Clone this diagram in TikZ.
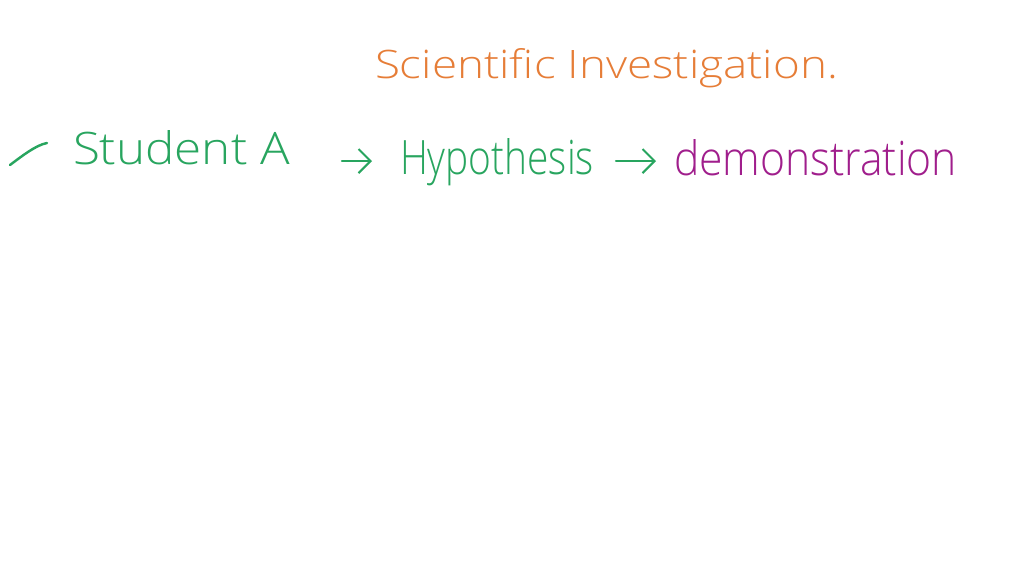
\documentclass[tikz,border=0pt]{standalone}
\usepackage{fontspec}
\setmainfont{Open Sans}[UprightFont=* Light]
\usetikzlibrary{arrows.meta}
\definecolor{penorange}{RGB}{230,125,55}
\definecolor{pengreen}{RGB}{40,165,95}
\definecolor{penpurple}{RGB}{160,30,140}
\begin{document}
\begin{tikzpicture}[
  handtext/.style={inner sep=0pt, outer sep=0pt, anchor=base west},
  arr/.style={pengreen, line width=0.6pt, line cap=round, -{Straight Barb[length=1.2mm, width=2.4mm]}}
]
\fill[white] (0,0) rectangle (10.24,-5.76);
\useasboundingbox (0,0) rectangle (10.24,-5.76);
% title
\node[handtext, text=penorange] (title) at (3.75,-0.78)
  {\resizebox{4.63cm}{0.30cm}{Scientific Investigation.}};
% row
\draw[pengreen, line width=0.7pt, line cap=round]
  (0.10,-1.65) .. controls (0.22,-1.56) and (0.36,-1.45) .. (0.47,-1.43);
\node[handtext, text=pengreen] (studentA) at (0.73,-1.64)
  {\resizebox{2.17cm}{0.34cm}{Student A}};
\node[handtext, text=pengreen] (hyp) at (4.00,-1.74)
  {\resizebox{1.94cm}{0.36cm}{Hypothesis}};
\node[handtext, text=penpurple] (demo) at (6.74,-1.75)
  {\resizebox{2.83cm}{0.36cm}{demonstration}};
\coordinate (arrowline) at (0,-1.61);
\draw[arr, shorten <=0.52cm, shorten >=0.28cm] (studentA.east |- arrowline) -- (hyp.west |- arrowline);
\draw[arr, shorten <=0.22cm, shorten >=0.18cm] (hyp.east |- arrowline) -- (demo.west |- arrowline);
\end{tikzpicture}
\end{document}
